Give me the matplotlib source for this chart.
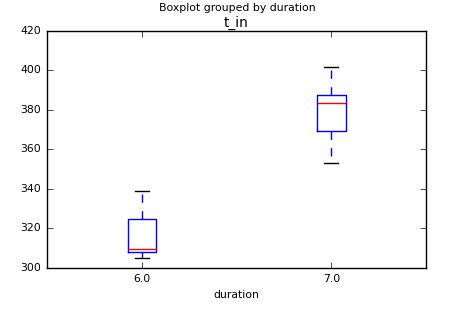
import matplotlib
matplotlib.use('Agg')
import matplotlib.pyplot as plt

""" ****** data read from the reference ****** """
durations = ['6.0', '7.0']
whislo = [305.0, 353.2]
q1 = [308.1, 369.4]
med = [309.6, 383.5]
q3 = [324.8, 387.6]
whishi = [339.2, 401.8]

plt.style.use('classic')
plt.rcParams['font.size'] = 7.8

fig = plt.figure(figsize=(4.74, 3.16), dpi=100, facecolor='white')
ax = fig.add_axes([0.099, 0.152, 0.8, 0.750])

stats = []
for i in range(len(durations)):
    stats.append({'whislo': whislo[i], 'q1': q1[i], 'med': med[i],
                  'q3': q3[i], 'whishi': whishi[i], 'fliers': []})

ax.bxp(stats, positions=[1, 2], widths=0.15, showfliers=False,
       boxprops=dict(color='b'),
       whiskerprops=dict(color='b', linestyle='--'),
       capprops=dict(color='k'),
       medianprops=dict(color='r'))

ax.set_xlim(0.5, 2.5)
ax.set_ylim(300, 420)
ax.set_yticks(range(300, 421, 20))
ax.set_xticks([1, 2])
ax.set_xticklabels(durations)
ax.set_xlabel('duration')
ax.set_title('t_in', fontsize=9.8, pad=3)
fig.suptitle('Boxplot grouped by duration', fontsize=7.8, y=0.99)
ax.grid(False)

fig.savefig('out.png', dpi=100, facecolor='white')
